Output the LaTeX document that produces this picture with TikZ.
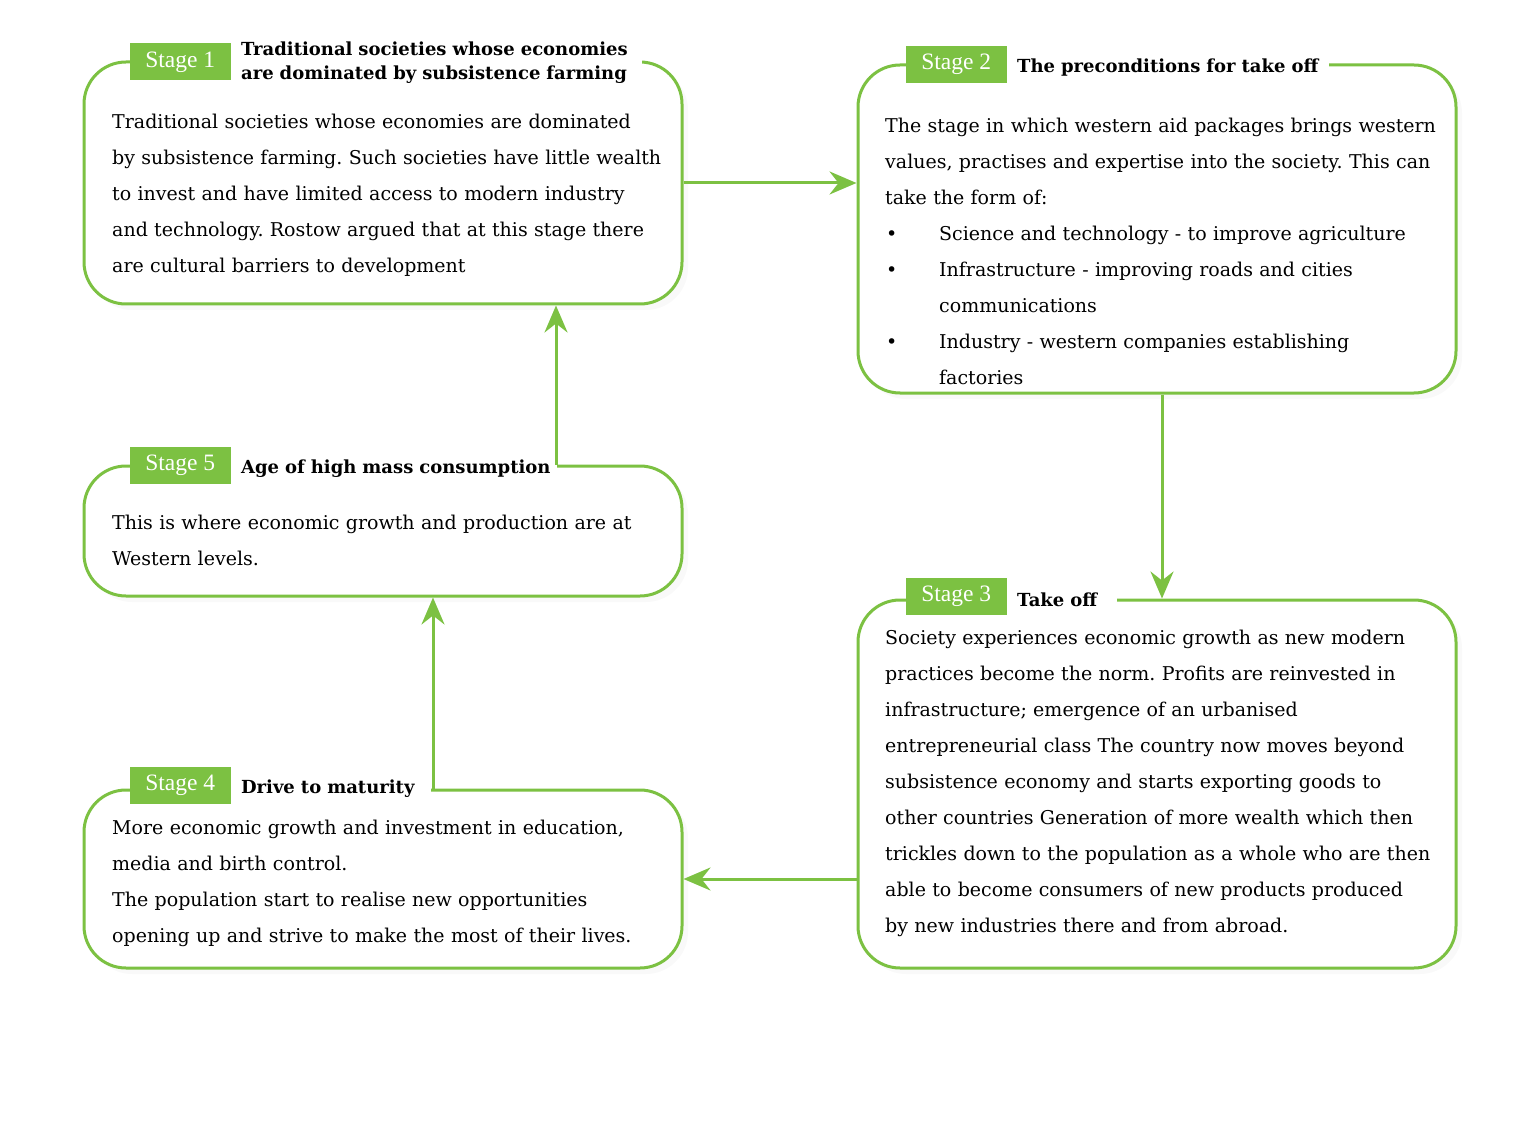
\documentclass[tikz,border=0pt]{standalone}
\usepackage{fontspec}
\setmainfont{DejaVu Serif}
\newfontfamily\labelfont{Liberation Serif}
\usetikzlibrary{arrows.meta,shadows}
\definecolor{sgreen}{HTML}{7CC142}
\frenchspacing
\begin{document}
\begin{tikzpicture}[x=1pt,y=-1pt,
  box/.style={draw=sgreen,line width=3pt,rounded corners=42pt,fill=white,inner sep=0pt,
    drop shadow={shadow xshift=6pt,shadow yshift=-6pt,opacity=0.025,fill=black}},
  stagelabel/.style={fill=sgreen,text=white,font=\labelfont\fontsize{23.5}{26}\selectfont,
    minimum width=101pt,minimum height=37pt,inner sep=0pt,anchor=west},
  titletext/.style={fill=white,font=\bfseries\fontsize{18}{24}\selectfont,inner xsep=10pt,
    inner ysep=3pt,anchor=west,align=left},
  bodytext/.style={font=\fontsize{19}{36}\selectfont,text width=620pt,align=left,
    anchor=base west,inner sep=0pt},
  arr/.style={draw=sgreen,line width=3pt,-{Stealth[length=27pt,width=23pt,inset=9pt]}}]
\fill[white] (0,0) rectangle (1536,1131);
\useasboundingbox (0,0) rectangle (1536,1131);

% boxes
\node[box,minimum width=598pt,minimum height=242pt] (b1) at (383,183) {};
\node[box,minimum width=598pt,minimum height=328pt] (b2) at (1157,229) {};
\node[box,minimum width=598pt,minimum height=368pt] (b3) at (1157,784) {};
\node[box,minimum width=598pt,minimum height=178pt] (b4) at (383,879) {};
\node[box,minimum width=598pt,minimum height=130pt] (b5) at (383,531) {};

% stage labels
\node[stagelabel] (s1) at ([xshift=47pt,yshift=-1.5pt]b1.north west) {Stage 1};
\node[stagelabel] (s2) at ([xshift=49pt,yshift=-1pt]b2.north west) {Stage 2};
\node[stagelabel] (s3) at ([xshift=49pt,yshift=2pt]b3.north west) {Stage 3};
\node[stagelabel] (s4) at ([xshift=47pt,yshift=3pt]b4.north west) {Stage 4};
\node[stagelabel] (s5) at ([xshift=47pt,yshift=-1pt]b5.north west) {Stage 5};

% titles
\node[titletext,text width=391pt] (t1) at ([yshift=-1pt]s1.east) {Traditional societies whose economies\\are dominated by subsistence farming};
\node[titletext,text width=302pt] (t2) at ([yshift=-3pt]s2.east) {\mbox{The preconditions for take off}};
\node[titletext,text width=90pt] (t3) at ([yshift=-3pt]s3.east) {\mbox{Take off}};
\node[titletext,text width=180pt] (t4) at ([yshift=-3pt]s4.east) {\mbox{Drive to maturity}};
\node[titletext,text width=306pt] (t5) at ([yshift=-3pt]s5.east) {\mbox{Age of high mass consumption}};

% body texts
\node[bodytext] (x1) at (112,129) {Traditional societies whose economies are dominated\\
by subsistence farming. Such societies have little wealth\\
to invest and have limited access to modern industry\\
and technology. Rostow argued that at this stage there\\
are cultural barriers to development};

\node[bodytext] (x2) at (885,133) {The stage in which western aid packages brings western\\
values, practises and expertise into the society. This can\\
take the form of:\\
\makebox[54pt][l]{\hspace{1pt}\textbullet}Science and technology - to improve agriculture\\
\makebox[54pt][l]{\hspace{1pt}\textbullet}Infrastructure - improving roads and cities\\
\hspace*{54pt}communications\\
\makebox[54pt][l]{\hspace{1pt}\textbullet}Industry - western companies establishing\\
\hspace*{54pt}factories};

\node[bodytext] (x3) at (885,644) {Society experiences economic growth as new modern\\
practices become the norm. Profits are reinvested in\\
infrastructure; emergence of an urbanised\\
entrepreneurial class The country now moves beyond\\
subsistence economy and starts exporting goods to\\
other countries Generation of more wealth which then\\
trickles down to the population as a whole who are then\\
able to become consumers of new products produced\\
by new industries there and from abroad.};

\node[bodytext] (x4) at (112,834) {More economic growth and investment in education,\\
media and birth control.\\
The population start to realise new opportunities\\
opening up and strive to make the most of their lives.};

\node[bodytext] (x5) at (112,529) {This is where economic growth and production are at\\
Western levels.};

% connectors
\draw[arr] (b1.east) -- (b2.west |- b1.east);
\draw[arr] ([xshift=5pt]b2.south) -- ([xshift=5pt]b3.north);
\draw[arr] (b3.west |- b4.east) -- (b4.east);
\draw[arr] ([xshift=50pt]b4.north) -- ([xshift=50pt]b5.south);
\draw[arr] ([xshift=173pt]b5.north) -- ([xshift=173pt]b1.south);
\end{tikzpicture}
\end{document}
